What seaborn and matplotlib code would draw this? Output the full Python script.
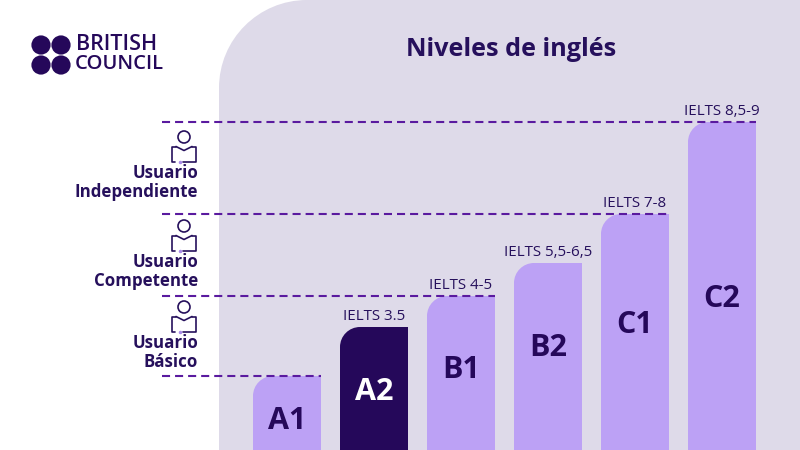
"""Niveles de ingles - British Council chart, seaborn bars plus drawn decoration."""

import matplotlib
matplotlib.use("Agg")
import matplotlib.pyplot as plt
from matplotlib.patches import Circle, PathPatch
from matplotlib.path import Path
import seaborn as sns

# Data
levels = ["A1", "A2", "B1", "B2", "C1", "C2"]
heights = [74, 123, 154, 187, 236, 328]
ielts_labels = ["", "IELTS 3.5", "IELTS 4-5", "IELTS 5,5-6,5", "IELTS 7-8", "IELTS 8,5-9"]
line_levels = ["A1", "B1", "C1", "C2"]
user_labels = ["Usuario\nIndependiente", "Usuario\nCompetente", "Usuario\nBásico"]

# Style
LAVENDER = "#bca1f5"
DARK = "#25085a"
PANEL = "#dedae9"
TEXT = "#26105c"
DASH = "#5a1a9f"
DOT = "#a98ae8"
K = 0.4477  # bezier handle offset for a quarter circle

sns.set_theme(style="white")
plt.rcParams["font.family"] = ["Open Sans", "DejaVu Sans"]
plt.rcParams["lines.scale_dashes"] = False

fig = plt.figure(figsize=(8, 4.5), dpi=100, facecolor="white")

# Background layer in pixel coordinates
bg = fig.add_axes([0, 0, 1, 1], zorder=0)
bg.set_xlim(0, 800)
bg.set_ylim(450, 0)
bg.axis("off")


def rounded_path(x0, y_base, x1, y_top, rx, ry):
    # rectangle with only its top-left corner rounded
    sign = 1 if y_base > y_top else -1
    verts = [(x0, y_base), (x0, y_top + sign * ry), (x0, y_top + sign * ry * K), (x0 + rx * K, y_top),
             (x0 + rx, y_top), (x1, y_top), (x1, y_base), (x0, y_base)]
    codes = [Path.MOVETO, Path.LINETO, Path.CURVE4, Path.CURVE4, Path.CURVE4,
             Path.LINETO, Path.LINETO, Path.CLOSEPOLY]
    return Path(verts, codes)


bg.add_patch(PathPatch(rounded_path(219, 450, 800, 0, 88, 88), fc=PANEL, ec="none"))
bg.text(511, 50, "Niveles de inglés", ha="center", va="center", fontsize=18.2,
        fontweight="bold", color=TEXT)

# Logo
for cx in (41, 61):
    for cy in (45, 65):
        bg.add_patch(Circle((cx, cy), 9.6, fc=DARK, ec="none"))
bg.text(76.5, 45, "BRITISH", ha="left", va="center", fontsize=15.5, fontweight=600, color=DARK)
bg.text(75, 64, "COUNCIL", ha="left", va="center", fontsize=14.5, fontweight=600, color=DARK)


# Person + book icon
def draw_icon(ax, head_y):
    top = head_y + 9.5
    ax.add_patch(Circle((184, head_y), 6, fc="none", ec=TEXT, lw=1.2))
    ax.plot([176, 172, 172, 175], [top, top, top + 15, top + 15], color=TEXT, lw=1.2)
    ax.plot([176, 184, 192], [top, top + 4, top], color=TEXT, lw=1.2)
    ax.plot([192, 196, 196, 183], [top, top, top + 15, top + 15], color=TEXT, lw=1.2)
    ax.plot([179.5], [top + 15], "o", ms=1.5, color=DOT)


for head_y, label, label_y in zip([137, 226, 307], user_labels, [182.5, 271.5, 352.5]):
    draw_icon(bg, head_y)
    bg.text(198, label_y, label, ha="right", va="center", fontsize=12.2, fontweight="bold",
            color=TEXT, linespacing=1.02)

# Bars: the axes spans the whole figure, so one y unit is one pixel
ax = fig.add_axes([0, 0, 1, 1], zorder=1)
sns.barplot(x=levels, y=heights, hue=levels, legend=False, dodge=False, width=68 / 87,
            palette=[LAVENDER, DARK, LAVENDER, LAVENDER, LAVENDER, LAVENDER],
            saturation=1, ax=ax, linewidth=0)
ax.set_xlim(-287 / 87, 513 / 87)
ax.set_ylim(0, 450)
ax.patch.set_alpha(0)
ax.axis("off")

bars = [c[0] for c in ax.containers]

# Round the top-left corner only
for bar in bars:
    x0, w, h = bar.get_x(), bar.get_width(), bar.get_height()
    bar.set_clip_path(rounded_path(x0, 0, x0 + w, h, 20 / 87, 20), ax.transData)

# IELTS labels above the bars
for container, label in zip(ax.containers, ielts_labels):
    ax.bar_label(container, labels=[label], padding=2.5, fontsize=10.9, color=TEXT)

# Level names inside the bars
name_y = [29, 58, 80, 102, 125, 151]
for i, (name, y) in enumerate(zip(levels, name_y)):
    ax.text(i, y, name, ha="center", va="center", fontsize=22, fontweight="bold",
            color="white" if name == "A2" else DARK)

# Dashed guides from the left labels to the bar tops
for name in line_levels:
    bar = bars[levels.index(name)]
    ax.plot([(162 - 287) / 87, bar.get_x() + bar.get_width()], [bar.get_height()] * 2,
            color=DASH, lw=1.5, ls=(0, (5.8, 3.6)), dash_capstyle="butt", zorder=5)

fig.savefig("out.png", dpi=100, facecolor="white")
